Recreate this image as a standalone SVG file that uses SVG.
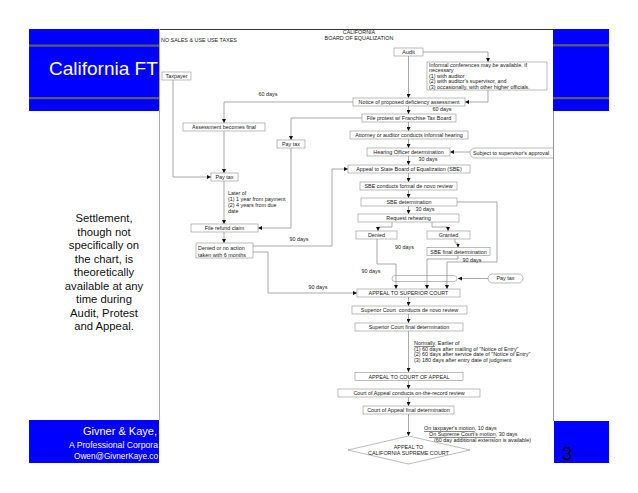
<svg xmlns="http://www.w3.org/2000/svg" width="638" height="493" viewBox="0 0 638 493">
<style>
.t{font-family:'Liberation Sans',Arial,sans-serif;font-size:5.4px;fill:#222}
.m{text-anchor:middle}
.b{fill:#fff;stroke:#8f8f8f;stroke-width:0.6}
.c{fill:none;stroke:#858585;stroke-width:0.7}
.blue{fill:#0000ff}
.stripe{fill:#5e5e5e}
.side{font-family:'Liberation Sans',Arial,sans-serif;font-size:11.3px;fill:#111;text-anchor:middle}
.foot{font-family:'Liberation Sans',Arial,sans-serif;fill:#fff}
</style>
<defs>
<marker id="ah" markerUnits="userSpaceOnUse" markerWidth="4" markerHeight="4" viewBox="0 0 4 4" refX="4" refY="2" orient="auto">
<path d="M0,0 L4,2 L0,4 z" fill="#111"/>
</marker>
<clipPath id="leftclip"><rect x="29" y="20" width="130" height="460"/></clipPath>
<clipPath id="page"><rect x="159" y="29" width="394" height="464"/></clipPath>
</defs>
<rect width="638" height="493" fill="#fff"/>

<g id="slide">
<rect class="blue" x="29" y="29" width="130" height="82"/>
<rect class="stripe" x="29" y="44.5" width="130" height="2.2"/>
<rect class="stripe" x="29" y="97" width="130" height="2.2"/>
<rect class="blue" x="553" y="29" width="56" height="82"/>
<rect class="stripe" x="553" y="44.2" width="56" height="2.2"/>
<rect class="stripe" x="553" y="97" width="56" height="2.2"/>
<rect class="blue" x="29" y="420" width="130" height="43"/>
<rect class="blue" x="554" y="421" width="55" height="42"/>
<g clip-path="url(#leftclip)">
<text x="49" y="75" font-family="'Liberation Sans',Arial,sans-serif" font-size="19" fill="#fff">California FT</text>
<text class="foot" x="83" y="435.3" font-size="11.5" textLength="74" lengthAdjust="spacingAndGlyphs">Givner &amp; Kaye,</text>
<text class="foot" x="69" y="447.5" font-size="8.6" textLength="89" lengthAdjust="spacingAndGlyphs">A Professional Corpora</text>
<text class="foot" x="74" y="459.3" font-size="8.6" textLength="84" lengthAdjust="spacingAndGlyphs">Owen@GivnerKaye.co</text>
</g>
<text x="562" y="460" font-family="'Liberation Sans',Arial,sans-serif" font-size="18" fill="#000">3</text>
<text class="side"><tspan x="104" y="222">Settlement,</tspan><tspan x="104" y="235.5">though not</tspan><tspan x="104" y="249">specifically on</tspan><tspan x="104" y="262.5">the chart, is</tspan><tspan x="104" y="276">theoretically</tspan><tspan x="104" y="289.5">available at any</tspan><tspan x="104" y="303">time during</tspan><tspan x="104" y="316.5">Audit, Protest</tspan><tspan x="104" y="330">and Appeal.</tspan></text>
</g>

<g id="pageframe">
<line x1="159" y1="29.5" x2="553" y2="29.5" stroke="#333" stroke-width="1.2"/>
<line x1="159.5" y1="29" x2="159.5" y2="420" stroke="#aaa" stroke-width="1"/>
<line x1="553.5" y1="111" x2="553.5" y2="421" stroke="#999" stroke-width="1"/>
</g>

<g clip-path="url(#page)">
<g id="header">
<text class="t" x="161" y="41.5" font-size="5">NO SALES &amp; USE USE TAXES</text>
<text class="t m" x="359" y="33.5" font-size="5">CALIFORNIA</text>
<text class="t m" x="359" y="39.5" font-size="5">BOARD OF EQUALIZATION</text>
</g>

<g id="connectors">
<path class="c" d="M423,52 H488 V62" marker-end="url(#ah)"/>
<path class="c" d="M488,90 V102 H465" marker-end="url(#ah)"/>
<path class="c" d="M408.5,56 V98" marker-end="url(#ah)"/>
<path class="c" d="M408.5,106 V114" marker-end="url(#ah)"/>
<path class="c" d="M408.5,122 V131" marker-end="url(#ah)"/>
<path class="c" d="M408.5,139 V148" marker-end="url(#ah)"/>
<path class="c" d="M470,152 H450" marker-end="url(#ah)"/>
<path class="c" d="M408.5,156 V165" marker-end="url(#ah)"/>
<path class="c" d="M408.5,173 V182" marker-end="url(#ah)"/>
<path class="c" d="M408.5,190 V198" marker-end="url(#ah)"/>
<path class="c" d="M408.5,206 V214" marker-end="url(#ah)"/>
<path class="c" d="M392,222 V227 H378 V231" marker-end="url(#ah)"/>
<path class="c" d="M432,222 V227 H448 V231" marker-end="url(#ah)"/>
<path class="c" d="M455,239 V243 H458 V247.5" marker-end="url(#ah)"/>
<path class="c" d="M377,239 V264 H396 V289" marker-end="url(#ah)"/>
<path class="c" d="M458,255.5 V259 H427 V289" marker-end="url(#ah)"/>
<path class="c" d="M457,202 H497 V262 H447 V289" marker-end="url(#ah)"/>
<path class="c" d="M488,278.5 H458" marker-end="url(#ah)"/>
<path class="c" d="M408.5,297 V306" marker-end="url(#ah)"/>
<path class="c" d="M408.5,314 V323" marker-end="url(#ah)"/>
<path class="c" d="M408.5,331 V372" marker-end="url(#ah)"/>
<path class="c" d="M408.5,381 V389" marker-end="url(#ah)"/>
<path class="c" d="M408.5,397 V406" marker-end="url(#ah)"/>
<path class="c" d="M408.5,414 V436" marker-end="url(#ah)"/>
<path class="c" d="M353,102 H224 V123" marker-end="url(#ah)"/>
<path class="c" d="M362,118 H291 V140" marker-end="url(#ah)"/>
<path class="c" d="M173,80 V177 H211" marker-end="url(#ah)"/>
<path class="c" d="M224,131 V173" marker-end="url(#ah)"/>
<path class="c" d="M224,181 V224" marker-end="url(#ah)"/>
<path class="c" d="M291,148 V228 H258" marker-end="url(#ah)"/>
<path class="c" d="M224,232 V243" marker-end="url(#ah)"/>
<path class="c" d="M253,246 H332 V169 H348" marker-end="url(#ah)"/>
<path class="c" d="M253,252 H268 V293 H357" marker-end="url(#ah)"/>
</g>

<g id="labels">
<text class="t m" x="268" y="95.5">60 days</text>
<text class="t m" x="442" y="110.5">60 days</text>
<text class="t m" x="428" y="160.5">30 days</text>
<text class="t m" x="425" y="210.5">30 days</text>
<text class="t m" x="299" y="240.5">90 days</text>
<text class="t m" x="404.5" y="248.5">90 days</text>
<text class="t m" x="472" y="262">90 days</text>
<text class="t m" x="371" y="272.5">90 days</text>
<text class="t m" x="318" y="288.5">90 days</text>
<text class="t"><tspan x="228" y="194.5">Later of</tspan><tspan x="228" y="200.5">(1) 1 year from payment</tspan><tspan x="228" y="206.5">(2) 4 years from due</tspan><tspan x="228" y="212.5">date</tspan></text>
<text class="t"><tspan x="414" y="345"><tspan text-decoration="underline">Normally</tspan>, Earlier of</tspan><tspan x="414" y="350.5">(1) 60 days after mailing of "Notice of Entry"</tspan><tspan x="414" y="356">(2) 60 days after service date of "Notice of Entry"</tspan><tspan x="414" y="361.5">(3) 180 days after entry date of judgment</tspan></text>
<text class="t"><tspan x="424" y="430"><tspan text-decoration="underline">On taxpayer's motion</tspan>, 10 days</tspan><tspan x="429" y="436"><tspan text-decoration="underline">On Supreme Court's motion</tspan>, 30 days</tspan><tspan x="434" y="442">(60 day additional extension is available)</tspan></text>
</g>

<g id="taxpayer"><rect class="b" x="162" y="72" width="29" height="8"/><text class="t m" x="176.5" y="78">Taxpayer</text></g>
<g id="audit"><rect class="b" x="394" y="48" width="29" height="8"/><text class="t m" x="408.5" y="54">Audit</text></g>
<g id="informal"><rect class="b" x="427" y="62" width="120" height="28"/><text class="t"><tspan x="429" y="66.8">Informal conferences may be available, if</tspan><tspan x="429" y="72.2">necessary</tspan><tspan x="429" y="77.8">(1) with auditor</tspan><tspan x="429" y="83.2">(2) with auditor's supervisor, and</tspan><tspan x="429" y="88.6">(3) occasionally, with other higher officials.</tspan></text></g>
<g id="notice"><rect class="b" x="353" y="98" width="112" height="8"/><text class="t m" x="409" y="104">Notice of proposed deficiency assessment</text></g>
<g id="protest"><rect class="b" x="362" y="114" width="94" height="8"/><text class="t m" x="409" y="120">File protest w/ Franchise Tax Board</text></g>
<g id="attorney"><rect class="b" x="350" y="131" width="118" height="8"/><text class="t m" x="409" y="137">Attorney or auditor conducts informal hearing</text></g>
<g id="hearing"><rect class="b" x="367" y="148" width="83" height="8"/><text class="t m" x="408.5" y="154">Hearing Officer determination</text></g>
<g id="subject"><rect class="b" x="470" y="148" width="100" height="10" rx="5"/><text class="t" x="473" y="154.8">Subject to supervisor's approval</text></g>
<g id="appealsbe"><rect class="b" x="348" y="165" width="122" height="8"/><text class="t m" x="409" y="171">Appeal to State Board of Equalization (SBE)</text></g>
<g id="sbereview"><rect class="b" x="360" y="182" width="97" height="8"/><text class="t m" x="408.5" y="188">SBE conducts formal de novo review</text></g>
<g id="sbedet"><rect class="b" x="361" y="198" width="96" height="8"/><text class="t m" x="409" y="204">SBE determination</text></g>
<g id="rehearing"><rect class="b" x="358" y="214" width="101" height="8"/><text class="t m" x="408.5" y="220">Request rehearing</text></g>
<g id="denied"><rect class="b" x="356" y="231" width="41" height="8"/><text class="t m" x="376.5" y="237">Denied</text></g>
<g id="granted"><rect class="b" x="427" y="231" width="43" height="8"/><text class="t m" x="448.5" y="237">Granted</text></g>
<g id="sbefinal"><rect class="b" x="427" y="247.5" width="63" height="8"/><text class="t m" x="458.5" y="253.5">SBE final determination</text></g>
<g id="capsule"><rect x="392" y="275.5" width="65" height="6" rx="3" fill="none" stroke="#8f8f8f" stroke-width="0.6"/></g>
<g id="paytaxround"><rect class="b" x="488" y="274" width="35" height="9" rx="4.5"/><text class="t m" x="505.5" y="280.4">Pay tax</text></g>
<g id="appealsup"><rect class="b" x="357" y="289" width="103" height="8"/><text class="t m" x="408.5" y="295">APPEAL TO SUPERIOR COURT</text></g>
<g id="supreview"><rect class="b" x="352" y="306" width="115" height="8"/><text class="t m" x="409.5" y="312" style="white-space:pre">Superior Court  conducts de novo review</text></g>
<g id="supfinal"><rect class="b" x="355" y="323" width="108" height="8"/><text class="t m" x="409" y="329">Superior Court final determination</text></g>
<g id="appealcoa"><rect class="b" x="355" y="372.5" width="108" height="8"/><text class="t m" x="409" y="378.5">APPEAL TO COURT OF APPEAL</text></g>
<g id="coareview"><rect class="b" x="338" y="389" width="142" height="8"/><text class="t m" x="409" y="395">Court of Appeal conducts on-the-record review</text></g>
<g id="coafinal"><rect class="b" x="363" y="406" width="91" height="8"/><text class="t m" x="408.5" y="412">Court of Appeal final determination</text></g>
<g id="supreme"><polygon class="b" points="408.5,436 470,450 408.5,464 348,450"/><text class="t m" x="408.5" y="449">APPEAL TO</text><text class="t m" x="408.5" y="455">CALIFORNIA SUPREME COURT</text></g>
<g id="assessfinal"><rect class="b" x="183" y="123" width="82" height="8"/><text class="t m" x="224" y="129">Assessment becomes final</text></g>
<g id="paytaxmid"><rect class="b" x="277" y="140" width="28" height="8"/><text class="t m" x="291" y="146">Pay tax</text></g>
<g id="paytaxleft"><rect class="b" x="211" y="173" width="27" height="8"/><text class="t m" x="224.5" y="179">Pay tax</text></g>
<g id="refund"><rect class="b" x="191" y="224" width="67" height="8"/><text class="t m" x="224.5" y="230">File refund claim</text></g>
<g id="deniednoaction"><rect class="b" x="196" y="243" width="57" height="15"/><text class="t"><tspan x="198" y="250.3">Denied or no action</tspan><tspan x="198" y="256.6">taken with 6 months</tspan></text></g>
</g>
</svg>
